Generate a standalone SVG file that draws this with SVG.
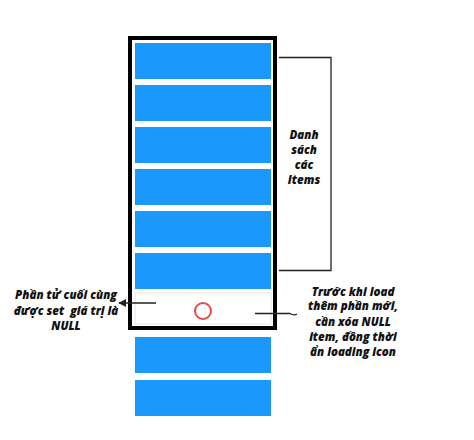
<svg xmlns="http://www.w3.org/2000/svg" width="474" height="440" viewBox="0 0 474 440">
<style>
.item{fill:#1a98fc}
.lbl{font-family:"Open Sans","Liberation Sans",sans-serif;font-weight:800;font-style:italic;font-size:11.5px;fill:#111;text-anchor:middle;white-space:pre}
.ln{fill:none;stroke:#222;stroke-width:1.3}
</style>
<defs>
<marker id="ah" viewBox="0 0 10 10" refX="9" refY="5" markerWidth="6" markerHeight="6" orient="auto-start-reverse">
<path d="M0,0 L10,5 L0,10 z" fill="#222"/>
</marker>
</defs>
<rect width="474" height="440" fill="#fff"/>
<g id="frame"><rect x="130" y="38" width="145" height="290" fill="none" stroke="#000" stroke-width="4"/></g>
<g id="item1"><rect class="item" x="135" y="43" width="136" height="36"/></g>
<g id="item2"><rect class="item" x="135" y="85" width="136" height="36"/></g>
<g id="item3"><rect class="item" x="135" y="127" width="136" height="36"/></g>
<g id="item4"><rect class="item" x="135" y="169" width="136" height="36"/></g>
<g id="item5"><rect class="item" x="135" y="211" width="136" height="36"/></g>
<g id="item6"><rect class="item" x="135" y="253" width="136" height="36"/></g>
<g id="nullItem">
<rect x="135" y="293" width="136" height="31" fill="#fff" stroke="#e6e6e6" stroke-width="1"/>
<circle cx="203" cy="311" r="8" fill="none" stroke="#e84a4a" stroke-width="2"/>
</g>
<g id="item7"><rect class="item" x="135" y="337" width="136" height="36"/></g>
<g id="item8"><rect class="item" x="135" y="380" width="136" height="36"/></g>
<g id="connectors">
<path class="ln" d="M279,57.5 H331 V270.5 H279"/>
<path class="ln" d="M156,303 H119" marker-end="url(#ah)"/>
<path class="ln" d="M255,313.5 H290 Q294,316 297,314"/>
</g>
<g id="label-list">
<text class="lbl" x="304" y="139">Danh</text>
<text class="lbl" x="304" y="154">sách</text>
<text class="lbl" x="304" y="169">các</text>
<text class="lbl" x="304" y="184">Items</text>
</g>
<g id="label-null">
<text class="lbl" x="66" y="299">Phần tử cuối cùng</text>
<text class="lbl" x="66" y="315" xml:space="preserve">được set  giá trị là</text>
<text class="lbl" x="66" y="330">NULL</text>
</g>
<g id="label-load">
<text class="lbl" x="353" y="296">Trước khi load</text>
<text class="lbl" x="353" y="310">thêm phần mới,</text>
<text class="lbl" x="353" y="326">cần xóa NULL</text>
<text class="lbl" x="353" y="341">item, đồng thời</text>
<text class="lbl" x="353" y="356">ẩn loading icon</text>
</g>
</svg>
